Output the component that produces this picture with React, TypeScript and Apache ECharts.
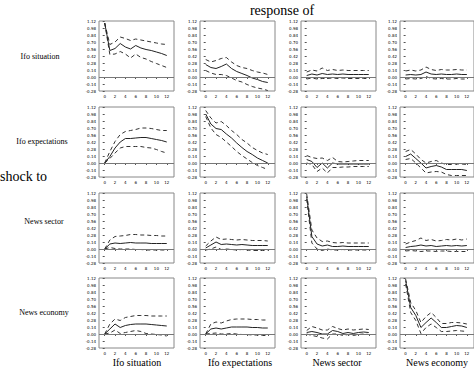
import React, { useEffect, useRef } from "react";
import * as echarts from "echarts";

const horizons = [0, 1, 2, 3, 4, 5, 6, 7, 8, 9, 10, 11, 12];
const variables = ["Ifo situation", "Ifo expectations", "News sector", "News economy"];
const xTicks = [0, 2, 4, 6, 8, 10, 12];

// shock to Ifo situation -> response of [Ifo situation, Ifo expectations, News sector, News economy]
const shockSitMid = [
  [1.08, 0.53, 0.57, 0.67, 0.6, 0.56, 0.63, 0.58, 0.55, 0.53, 0.5, 0.47, 0.43],
  [0.25, 0.19, 0.17, 0.21, 0.26, 0.17, 0.11, 0.07, 0.03, -0.02, -0.05, -0.09, -0.11],
  [0.03, 0.06, 0.04, 0.07, 0.05, 0.06, 0.05, 0.06, 0.05, 0.05, 0.05, 0.05, 0.05],
  [0.04, 0.05, 0.04, 0.05, 0.1, 0.06, 0.05, 0.06, 0.05, 0.05, 0.06, 0.05, 0.05],
];
const shockSitUp = [
  [1.08, 0.65, 0.7, 0.8, 0.77, 0.73, 0.76, 0.74, 0.72, 0.7, 0.68, 0.66, 0.65],
  [0.35, 0.3, 0.33, 0.37, 0.39, 0.3, 0.23, 0.19, 0.17, 0.13, 0.1, 0.08, 0.05],
  [0.1, 0.14, 0.12, 0.18, 0.13, 0.15, 0.13, 0.14, 0.13, 0.13, 0.13, 0.13, 0.13],
  [0.12, 0.14, 0.12, 0.14, 0.2, 0.15, 0.13, 0.15, 0.14, 0.14, 0.15, 0.14, 0.14],
];
const shockSitLo = [
  [1.08, 0.45, 0.46, 0.51, 0.46, 0.38, 0.46, 0.39, 0.36, 0.31, 0.27, 0.23, 0.19],
  [0.13, 0.08, 0.05, 0.05, 0.03, -0.02, -0.07, -0.1, -0.15, -0.19, -0.22, -0.24, -0.27],
  [-0.04, -0.02, -0.04, -0.03, -0.03, -0.02, -0.03, -0.02, -0.03, -0.03, -0.03, -0.03, -0.03],
  [-0.04, -0.03, -0.04, -0.03, 0.01, -0.03, -0.04, -0.03, -0.04, -0.04, -0.03, -0.04, -0.04],
];

// shock to Ifo expectations
const shockExpMid = [
  [0, 0.13, 0.3, 0.42, 0.49, 0.49, 0.5, 0.51, 0.51, 0.49, 0.47, 0.45, 0.42],
  [0.98, 0.78, 0.69, 0.67, 0.58, 0.5, 0.4, 0.31, 0.23, 0.17, 0.1, 0.05, 0],
  [0.07, 0.03, -0.09, 0, -0.1, 0, -0.02, -0.02, -0.02, -0.02, -0.02, -0.02, -0.02],
  [0.13, 0.18, 0.09, 0, -0.1, -0.07, -0.05, -0.08, -0.13, -0.13, -0.13, -0.13, -0.15],
];
const shockExpUp = [
  [0, 0.23, 0.43, 0.57, 0.63, 0.65, 0.67, 0.7, 0.7, 0.69, 0.67, 0.65, 0.65],
  [1.05, 0.9, 0.8, 0.83, 0.75, 0.65, 0.57, 0.47, 0.4, 0.31, 0.25, 0.2, 0.17],
  [0.15, 0.11, 0.09, 0.1, 0.05, 0.11, 0.03, 0.02, 0.03, 0.04, 0.05, 0.05, 0.05],
  [0.23, 0.27, 0.18, 0.07, 0, 0.03, 0.05, 0, -0.03, -0.03, -0.02, -0.02, -0.03],
];
const shockExpLo = [
  [0, 0.09, 0.2, 0.3, 0.33, 0.33, 0.33, 0.33, 0.31, 0.3, 0.27, 0.23, 0.2],
  [0.93, 0.7, 0.57, 0.51, 0.42, 0.33, 0.23, 0.15, 0.08, 0.01, -0.05, -0.09, -0.13],
  [0, -0.03, -0.17, -0.1, -0.2, -0.09, -0.09, -0.08, -0.08, -0.07, -0.07, -0.07, -0.07],
  [0.07, 0.09, 0, -0.1, -0.2, -0.18, -0.17, -0.18, -0.23, -0.25, -0.25, -0.25, -0.25],
];

// shock to News sector
const shockSecMid = [
  [0, 0.1, 0.12, 0.11, 0.12, 0.13, 0.12, 0.12, 0.12, 0.11, 0.11, 0.11, 0.11],
  [0.02, 0.08, 0.14, 0.09, 0.1, 0.09, 0.08, 0.09, 0.08, 0.07, 0.07, 0.07, 0.07],
  [1.05, 0.25, 0.1, 0.06, 0.08, 0.05, 0.05, 0.06, 0.05, 0.05, 0.05, 0.05, 0.05],
  [0.03, 0.05, 0.06, 0.08, 0.06, 0.07, 0.05, 0.06, 0.07, 0.06, 0.07, 0.06, 0.07],
];
const shockSecUp = [
  [0, 0.18, 0.25, 0.26, 0.27, 0.29, 0.29, 0.28, 0.28, 0.27, 0.27, 0.26, 0.26],
  [0.06, 0.16, 0.24, 0.19, 0.2, 0.19, 0.18, 0.19, 0.18, 0.17, 0.17, 0.17, 0.16],
  [1.1, 0.38, 0.22, 0.15, 0.16, 0.13, 0.12, 0.13, 0.12, 0.12, 0.12, 0.12, 0.12],
  [0.1, 0.14, 0.17, 0.22, 0.17, 0.19, 0.16, 0.17, 0.19, 0.18, 0.2, 0.18, 0.2],
];
const shockSecLo = [
  [0, 0.03, 0.01, 0, 0, 0, -0.01, -0.01, -0.02, -0.02, -0.02, -0.02, -0.02],
  [-0.02, 0, 0.04, -0.01, 0, -0.01, -0.02, -0.01, -0.02, -0.03, -0.03, -0.03, -0.03],
  [1.0, 0.12, 0, -0.03, 0, -0.02, -0.02, -0.01, -0.02, -0.02, -0.02, -0.02, -0.02],
  [-0.04, -0.03, -0.04, -0.05, -0.04, -0.04, -0.05, -0.04, -0.04, -0.05, -0.05, -0.05, -0.05],
];

// shock to News economy
const shockEcoMid = [
  [0, 0.1, 0.2, 0.13, 0.17, 0.19, 0.2, 0.2, 0.2, 0.19, 0.18, 0.17, 0.16],
  [0, 0.1, 0.12, 0.1, 0.12, 0.14, 0.14, 0.14, 0.14, 0.13, 0.13, 0.12, 0.12],
  [0.03, 0.05, 0.03, 0, 0, 0.07, 0.05, 0.01, 0.03, 0.01, 0.03, 0.04, 0.03],
  [1.07, 0.53, 0.37, 0.13, 0.23, 0.32, 0.23, 0.13, 0.13, 0.15, 0.17, 0.16, 0.13],
];
const shockEcoUp = [
  [0, 0.2, 0.3, 0.27, 0.33, 0.35, 0.37, 0.37, 0.37, 0.36, 0.36, 0.36, 0.36],
  [0, 0.2, 0.24, 0.22, 0.26, 0.29, 0.3, 0.3, 0.3, 0.29, 0.29, 0.28, 0.28],
  [0.07, 0.15, 0.12, 0.08, 0.08, 0.15, 0.11, 0.08, 0.1, 0.08, 0.09, 0.1, 0.09],
  [1.1, 0.63, 0.47, 0.23, 0.35, 0.43, 0.33, 0.21, 0.21, 0.23, 0.23, 0.22, 0.2],
];
const shockEcoLo = [
  [0, 0.02, 0.08, 0.01, 0.03, 0.05, 0.07, 0.05, 0.01, 0, -0.01, -0.02, -0.04],
  [0, 0.01, 0.02, 0, 0, 0.01, 0, -0.01, -0.01, -0.02, -0.02, -0.03, -0.03],
  [0, -0.03, -0.05, -0.08, -0.1, 0, 0, -0.03, -0.01, -0.03, -0.01, 0, -0.01],
  [1.0, 0.43, 0.27, 0.01, 0.13, 0.2, 0.13, 0.05, 0.05, 0.06, 0.07, 0.06, 0.05],
];

const mids = [shockSitMid, shockExpMid, shockSecMid, shockEcoMid];
const ups = [shockSitUp, shockExpUp, shockSecUp, shockEcoUp];
const los = [shockSitLo, shockExpLo, shockSecLo, shockEcoLo];

const colLefts = [99, 200, 301, 400];
const rowTops = [21, 107, 193, 278];
const boxW = 75;
const boxH = 70;
const serif = "'Liberation Serif', 'DejaVu Serif', serif";

export default function App() {
  const ref = useRef<HTMLDivElement>(null);
  useEffect(() => {
    if (!ref.current) return;
    const chart = echarts.init(ref.current, null, { renderer: "svg" });
    const grids: any[] = [];
    const xAxes: any[] = [];
    const yAxes: any[] = [];
    const series: any[] = [];
    let idx = 0;
    for (let r = 0; r < 4; r++) {
      for (let c = 0; c < 4; c++) {
        grids.push({
          left: colLefts[c],
          top: rowTops[r],
          width: boxW,
          height: boxH,
          show: true,
          borderColor: "#888",
          borderWidth: 1,
          backgroundColor: "transparent",
        });
        xAxes.push({
          type: "value",
          gridIndex: idx,
          min: -1.1,
          max: 13.4,
          axisLine: { show: false },
          splitLine: { show: false },
          axisTick: { show: true, customValues: xTicks, length: 2, lineStyle: { color: "#555" } },
          axisLabel: {
            show: true,
            customValues: xTicks,
            fontSize: 4,
            color: "#000",
            margin: 3,
            fontFamily: "DejaVu Sans",
          },
        });
        yAxes.push({
          type: "value",
          gridIndex: idx,
          min: -0.28,
          max: 1.12,
          interval: 0.14,
          axisLine: { show: false },
          splitLine: { show: false },
          axisTick: { show: true, length: 2, lineStyle: { color: "#555" } },
          axisLabel: {
            show: true,
            fontSize: 4,
            color: "#000",
            margin: 3,
            fontFamily: "DejaVu Sans",
            formatter: (v: number) => v.toFixed(2),
          },
        });
        const mk = (arr: number[]) => horizons.map((h, i) => [h, arr[i]]);
        series.push({
          type: "line",
          xAxisIndex: idx,
          yAxisIndex: idx,
          data: mk(mids[r][c]),
          symbol: "none",
          lineStyle: { color: "#222", width: 1 },
          z: 3,
          markLine: {
            silent: true,
            symbol: ["none", "none"],
            label: { show: false },
            lineStyle: { color: "#777", type: "solid", width: 1 },
            data: [{ yAxis: 0 }],
          },
        });
        for (const band of [ups[r][c], los[r][c]]) {
          series.push({
            type: "line",
            xAxisIndex: idx,
            yAxisIndex: idx,
            data: mk(band),
            symbol: "none",
            lineStyle: { color: "#333", width: 1, type: [4, 3] },
            z: 2,
          });
        }
        idx++;
      }
    }
    const rowLabelPos = [
      [40, 56],
      [42, 141],
      [44, 221],
      [44, 312],
    ];
    const colLabelX = [137, 240, 337, 437];
    const graphic: any[] = [
      {
        type: "text",
        x: 282,
        y: 10,
        style: { text: "response of", font: `14px ${serif}`, fill: "#000", textAlign: "center", textVerticalAlign: "middle" },
      },
      {
        type: "text",
        x: 0,
        y: 176,
        style: { text: "shock to", font: `14px ${serif}`, fill: "#000", textAlign: "left", textVerticalAlign: "middle" },
      },
    ];
    variables.forEach((v, i) => {
      graphic.push({
        type: "text",
        x: rowLabelPos[i][0],
        y: rowLabelPos[i][1],
        style: { text: v, font: `8px ${serif}`, fill: "#000", textAlign: "center", textVerticalAlign: "middle" },
      });
      graphic.push({
        type: "text",
        x: colLabelX[i],
        y: 362,
        style: { text: v, font: `10px ${serif}`, fill: "#000", textAlign: "center", textVerticalAlign: "middle" },
      });
    });
    chart.setOption({
      animation: false,
      backgroundColor: "#fff",
      grid: grids,
      xAxis: xAxes,
      yAxis: yAxes,
      series,
      graphic,
    });
    return () => chart.dispose();
  }, []);
  return (
    <div
      ref={ref}
      style={{ position: "fixed", left: 0, top: 0, width: 474, height: 368 }}
    />
  );
}
